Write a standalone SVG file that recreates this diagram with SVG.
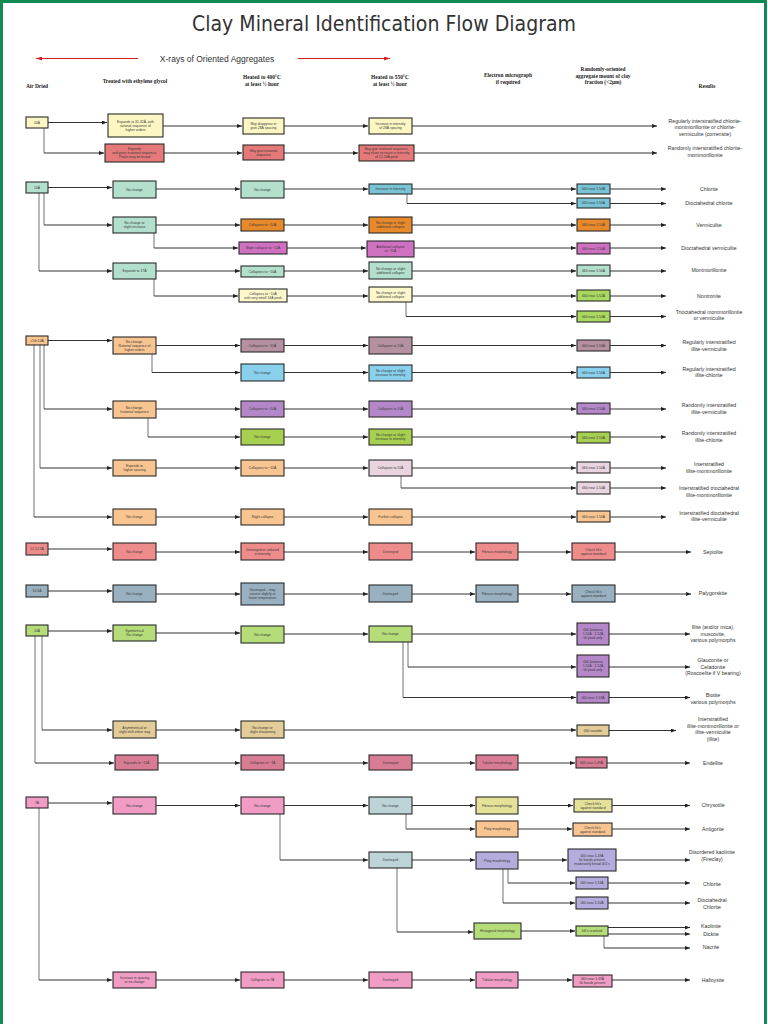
<svg xmlns="http://www.w3.org/2000/svg" width="768" height="1024" viewBox="0 0 768 1024">
<style>
.b{stroke:#2a2a2a;stroke-width:1.1}
.t{font-family:"Liberation Sans",Arial,sans-serif;font-size:3.4px;fill:#3a3a3a;text-anchor:middle}
.r{font-family:"Liberation Sans",Arial,sans-serif;font-size:5.2px;fill:#333;text-anchor:middle}
.h{font-family:"Liberation Serif","Times New Roman",serif;font-weight:bold;font-size:5.4px;fill:#222;text-anchor:middle}
.c{fill:none;stroke:#333;stroke-width:1;marker-end:url(#ah)}
.v{fill:none;stroke:#a0a0a0;stroke-width:1.5}
.yel{fill:#fcf7c2}.red{fill:#e57878}.tea{fill:#b2e0cc}.blu{fill:#78c4d6}.ora{fill:#e8892c}.mag{fill:#d070c0}
.lye{fill:#fdf8cc}.grn{fill:#a8d860}.pea{fill:#f8c490}.mau{fill:#b490a0}.lbl{fill:#88d0ec}.pur{fill:#b488c8}
.gr2{fill:#a8d050}.ppk{fill:#ead4e0}.rd2{fill:#ee8c8c}.bgr{fill:#98b0c0}.lgr{fill:#b4dc78}.tan{fill:#e4cc98}
.ros{fill:#d87c94}.pnk{fill:#f09cc4}.bg2{fill:#bcd4d8}.ylw{fill:#e4e298}.lav{fill:#b4acdc}
</style>
<defs>
<marker id="ah" markerWidth="5" markerHeight="4" refX="5" refY="2" orient="auto" markerUnits="userSpaceOnUse"><path d="M0,0 L5,2 L0,4z" fill="#222"/></marker>
<marker id="ra" markerWidth="6" markerHeight="4" refX="6" refY="2" orient="auto" markerUnits="userSpaceOnUse"><path d="M0,0 L6,2 L0,4z" fill="#d42020"/></marker>
</defs>
<rect width="768" height="1024" fill="#fff"/>
<rect x="1.5" y="1.5" width="764" height="1040" fill="none" stroke="#108a55" stroke-width="3"/>
<g id="title">
<text x="384" y="31" font-family="'DejaVu Sans',sans-serif" font-size="21" fill="#333" text-anchor="middle" textLength="384" lengthAdjust="spacingAndGlyphs">Clay Mineral Identification Flow Diagram</text>
<text x="217" y="62" font-family="'Liberation Sans',Arial,sans-serif" font-size="8.5" fill="#333" text-anchor="middle">X-rays of Oriented Aggregates</text>
<path d="M138 58.5H36" stroke="#d42020" stroke-width="1" marker-end="url(#ra)"/>
<path d="M298 58.5H390" stroke="#d42020" stroke-width="1" marker-end="url(#ra)"/>
</g>
<g id="headers">
<text class="h" x="37" y="88">Air Dried</text>
<text class="h" x="135" y="83">Treated with ethylene glycol</text>
<text class="h" x="262" y="79">Heated to 400°C<tspan x="262" dy="6.5">at least ½ hour</tspan></text>
<text class="h" x="390" y="79">Heated to 550°C<tspan x="390" dy="6.5">at least ½ hour</tspan></text>
<text class="h" x="508" y="77">Electron micrograph<tspan x="508" dy="6.5">if required</tspan></text>
<text class="h" x="603" y="71">Randomly-oriented<tspan x="603" dy="6.5">aggregate mount of clay</tspan><tspan x="603" dy="6.5">fraction (&lt;2μm)</tspan></text>
<text class="h" x="707" y="88" font-size="7">Results</text>
</g>
<g id="connectors">
<path class="c" d="M48 122.5H107"/><path class="c" d="M163 126H242"/><path class="c" d="M284 126H368"/><path class="c" d="M412 126H657"/>
<path class="v" d="M44 128V153"/><path class="c" d="M44 153H104"/><path class="c" d="M164 153H242"/><path class="c" d="M284 153H358"/><path class="c" d="M414 153H657"/>
<path class="c" d="M48 187.5H112"/><path class="c" d="M156 189H240"/><path class="c" d="M284 189H368"/><path class="c" d="M412 189H576"/><path class="c" d="M610 189H666"/>
<path class="v" d="M407 194V203.5"/><path class="c" d="M407 203.5H576"/><path class="c" d="M610 203.5H666"/>
<path class="v" d="M44 193V225"/><path class="c" d="M44 225H112"/><path class="c" d="M156 225H240"/><path class="c" d="M284 225H368"/><path class="c" d="M412 225H576"/><path class="c" d="M610 225H666"/>
<path class="v" d="M154 233V248"/><path class="c" d="M154 248H238"/><path class="c" d="M287 248H366"/><path class="c" d="M414 248H576"/><path class="c" d="M610 248H666"/>
<path class="v" d="M39 193V271"/><path class="c" d="M39 271H112"/><path class="c" d="M156 271H240"/><path class="c" d="M284 271H368"/><path class="c" d="M412 271H576"/><path class="c" d="M610 271H666"/>
<path class="v" d="M154 279V296"/><path class="c" d="M154 296H238"/><path class="c" d="M287 296H368"/><path class="c" d="M412 296H576"/><path class="c" d="M610 296H666"/>
<path class="v" d="M406 302V316.5"/><path class="c" d="M406 316.5H576"/><path class="c" d="M610 316.5H666"/>
<path class="c" d="M48 340.5H112"/><path class="c" d="M156 345.5H240"/><path class="c" d="M284 345.5H368"/><path class="c" d="M412 345.5H576"/><path class="c" d="M610 345.5H666"/>
<path class="v" d="M152 354V372.5"/><path class="c" d="M152 372.5H240"/><path class="c" d="M284 372.5H368"/><path class="c" d="M412 372.5H576"/><path class="c" d="M610 372.5H666"/>
<path class="v" d="M44 345V409"/><path class="c" d="M44 409H112"/><path class="c" d="M156 409H240"/><path class="c" d="M284 409H368"/><path class="c" d="M412 409H576"/><path class="c" d="M610 409H666"/>
<path class="v" d="M148 418V437"/><path class="c" d="M148 437H240"/><path class="c" d="M284 437H368"/><path class="c" d="M412 437H576"/><path class="c" d="M610 437H666"/>
<path class="v" d="M40 345V468"/><path class="c" d="M40 468H112"/><path class="c" d="M156 468H240"/><path class="c" d="M284 468H368"/><path class="c" d="M412 468H576"/><path class="c" d="M610 468H666"/>
<path class="v" d="M401 476V488"/><path class="c" d="M401 488H576"/><path class="c" d="M610 488H666"/>
<path class="v" d="M34 345V517"/><path class="c" d="M34 517H112"/><path class="c" d="M156 517H240"/><path class="c" d="M284 517H368"/><path class="c" d="M412 517H576"/><path class="c" d="M610 517H666"/>
<path class="c" d="M48 549H112"/><path class="c" d="M156 552H240"/><path class="c" d="M284 552H368"/><path class="c" d="M412 552H475"/><path class="c" d="M518 552H571"/><path class="c" d="M615 552H691"/>
<path class="c" d="M48 591H112"/><path class="c" d="M156 594H240"/><path class="c" d="M284 594H368"/><path class="c" d="M412 594H475"/><path class="c" d="M518 594H571"/><path class="c" d="M615 594H691"/>
<path class="c" d="M48 631H112"/><path class="c" d="M156 633H240"/><path class="c" d="M284 634H368"/><path class="c" d="M412 634H576"/><path class="c" d="M609 634H690"/>
<path class="v" d="M408 642V667"/><path class="c" d="M408 667H576"/><path class="c" d="M609 667H690"/>
<path class="v" d="M403 642V697.5"/><path class="c" d="M403 697.5H576"/><path class="c" d="M609 697.5H690"/>
<path class="v" d="M42 636V730"/><path class="c" d="M42 730H112"/><path class="c" d="M156 730H240"/><path class="c" d="M284 730H576"/><path class="c" d="M609 730.5H676"/>
<path class="v" d="M35 636V763"/><path class="c" d="M35 763H114"/><path class="c" d="M158 763H240"/><path class="c" d="M284 763H368"/><path class="c" d="M412 763H475"/><path class="c" d="M518 763H575"/><path class="c" d="M607 763H690"/>
<path class="c" d="M48 803H112"/><path class="c" d="M156 805.5H240"/><path class="c" d="M284 805.5H368"/><path class="c" d="M412 805.5H475"/><path class="c" d="M518 805.5H573"/><path class="c" d="M612 805.5H690"/>
<path class="v" d="M406 814V829"/><path class="c" d="M406 829H475"/><path class="c" d="M518 829H572"/><path class="c" d="M612 829H690"/>
<path class="v" d="M280 814V860"/><path class="c" d="M280 860H368"/><path class="c" d="M412 860H475"/><path class="c" d="M518 860H567"/><path class="c" d="M616 860H690"/>
<path class="v" d="M508 869V883"/><path class="c" d="M508 883H575"/><path class="c" d="M608 883H690"/>
<path class="v" d="M503 869V903"/><path class="c" d="M503 903H575"/><path class="c" d="M608 903H690"/>
<path class="v" d="M397 868V932"/><path class="c" d="M397 932H473"/><path class="c" d="M521 931H575"/><path class="c" d="M608 927.5H690"/><path class="c" d="M608 934H690"/>
<path class="v" d="M604 936V948"/><path class="c" d="M604 948H690"/>
<path class="v" d="M39 808V980"/><path class="c" d="M39 980H112"/><path class="c" d="M156 980H240"/><path class="c" d="M284 980H368"/><path class="c" d="M412 980H475"/><path class="c" d="M518 980H572"/><path class="c" d="M612 980H690"/>
</g>
<!-- 24A section -->
<g id="n24"><rect class="b yel" x="26" y="117" width="22" height="11"/><text class="t" x="37" y="123.7">24Å</text></g>
<g id="a1"><rect class="b yel" x="108" y="114" width="55" height="23"/><text class="t" x="135.5" y="122.5">Expands to 31-32Å, with<tspan x="135.5" dy="4.2">rational sequence of</tspan><tspan x="135.5" dy="4.2">higher orders</tspan></text></g>
<g id="a2"><rect class="b red" x="105" y="144" width="59" height="18"/><text class="t" x="134.5" y="150">Expands<tspan x="134.5" dy="4.2">and gives irrational sequence.</tspan><tspan x="134.5" dy="4.2">Peaks may be broad</tspan></text></g>
<g id="b1"><rect class="b yel" x="243" y="118" width="41" height="16"/><text class="t" x="263.5" y="125.1">May disappear or<tspan x="263.5" dy="4.2">give 28Å spacing</tspan></text></g>
<g id="b2"><rect class="b red" x="243" y="145" width="41" height="15"/><text class="t" x="263.5" y="151.6">May give irrational<tspan x="263.5" dy="4.2">sequence</tspan></text></g>
<g id="c1"><rect class="b yel" x="369" y="118" width="43" height="16"/><text class="t" x="390.5" y="125.1">Increase in intensity<tspan x="390.5" dy="4.2">of 28Å spacing</tspan></text></g>
<g id="c2"><rect class="b red" x="359" y="145" width="55" height="16"/><text class="t" x="386.5" y="150">May give irrational sequence,<tspan x="386.5" dy="4.2">may show increase in intensity</tspan><tspan x="386.5" dy="4.2">of 12-14Å peak</tspan></text></g>
<!-- 14A section -->
<g id="n14"><rect class="b tea" x="26" y="182" width="22" height="11"/><text class="t" x="37" y="188.7">14Å</text></g>
<g id="d1"><rect class="b tea" x="113" y="181" width="43" height="17"/><text class="t" x="134.5" y="190.7">No change</text></g>
<g id="d2"><rect class="b tea" x="113" y="217" width="43" height="16"/><text class="t" x="134.5" y="224.1">No change or<tspan x="134.5" dy="4.2">slight increase</tspan></text></g>
<g id="d3"><rect class="b tea" x="113" y="263" width="43" height="16"/><text class="t" x="134.5" y="272.2">Expands to 17Å</text></g>
<g id="e1"><rect class="b tea" x="241" y="181" width="43" height="17"/><text class="t" x="262.5" y="190.7">No change</text></g>
<g id="e2"><rect class="b ora" x="241" y="219" width="43" height="12"/><text class="t" x="262.5" y="226.2">Collapses to ~10Å</text></g>
<g id="e3"><rect class="b mag" x="239" y="242" width="48" height="12"/><text class="t" x="263" y="249.2">Slight collapse to ~12Å</text></g>
<g id="e4"><rect class="b tea" x="241" y="266" width="43" height="11"/><text class="t" x="262.5" y="272.7">Collapses to ~10Å</text></g>
<g id="e5"><rect class="b lye" x="239" y="289" width="48" height="13"/><text class="t" x="263" y="294.6">Collapses to ~10Å<tspan x="263" dy="4.2">with very small 14Å peak</tspan></text></g>
<g id="f1"><rect class="b blu" x="369" y="184" width="43" height="10"/><text class="t" x="390.5" y="190.2">Increase in intensity</text></g>
<g id="f2"><rect class="b ora" x="369" y="217" width="43" height="16"/><text class="t" x="390.5" y="224.1">No change or slight<tspan x="390.5" dy="4.2">additional collapse</tspan></text></g>
<g id="f3"><rect class="b mag" x="367" y="241" width="47" height="16"/><text class="t" x="390.5" y="248.1">Additional collapse<tspan x="390.5" dy="4.2">to ~11Å</tspan></text></g>
<g id="f4"><rect class="b tea" x="369" y="262" width="43" height="17"/><text class="t" x="390.5" y="269.6">No change or slight<tspan x="390.5" dy="4.2">additional collapse</tspan></text></g>
<g id="f5"><rect class="b lye" x="369" y="287" width="43" height="15"/><text class="t" x="390.5" y="293.6">No change or slight<tspan x="390.5" dy="4.2">additional collapse</tspan></text></g>
<g id="g1"><rect class="b blu" x="577" y="184" width="33" height="10"/><text class="t" x="593.5" y="190.2">060 near 1.54Å</text></g>
<g id="g2"><rect class="b blu" x="577" y="198" width="33" height="10"/><text class="t" x="593.5" y="204.2">060 near 1.50Å</text></g>
<g id="g3"><rect class="b ora" x="577" y="219" width="33" height="12"/><text class="t" x="593.5" y="226.2">060 near 1.54Å</text></g>
<g id="g4"><rect class="b mag" x="577" y="243" width="33" height="11"/><text class="t" x="593.5" y="249.7">060 near 1.50Å</text></g>
<g id="g5"><rect class="b tea" x="577" y="265" width="33" height="11"/><text class="t" x="593.5" y="271.7">060 near 1.50Å</text></g>
<g id="g6"><rect class="b grn" x="577" y="290" width="33" height="11"/><text class="t" x="593.5" y="296.7">060 near 1.52Å</text></g>
<g id="g7"><rect class="b grn" x="577" y="311" width="33" height="11"/><text class="t" x="593.5" y="317.7">060 near 1.54Å</text></g>
<!-- >10<14A section -->
<g id="n1014"><rect class="b pea" x="26" y="336" width="22" height="9"/><text class="t" x="37" y="341.7">&gt;10&lt;14Å</text></g>
<g id="h1"><rect class="b pea" x="113" y="337" width="43" height="17"/><text class="t" x="134.5" y="342.5">No change.<tspan x="134.5" dy="4.2">Rational sequence of</tspan><tspan x="134.5" dy="4.2">higher orders</tspan></text></g>
<g id="h2"><rect class="b pea" x="113" y="401" width="43" height="17"/><text class="t" x="134.5" y="408.6">No change.<tspan x="134.5" dy="4.2">Irrational sequence</tspan></text></g>
<g id="h3"><rect class="b pea" x="113" y="460" width="43" height="16"/><text class="t" x="134.5" y="467.1">Expands to<tspan x="134.5" dy="4.2">higher spacing</tspan></text></g>
<g id="h4"><rect class="b pea" x="113" y="509" width="43" height="16"/><text class="t" x="134.5" y="518.2">No change</text></g>
<g id="i1"><rect class="b mau" x="241" y="339" width="43" height="13"/><text class="t" x="262.5" y="346.7">Collapses to ~10Å</text></g>
<g id="i2"><rect class="b lbl" x="241" y="364" width="43" height="17" stroke="#3aa8e0"/><text class="t" x="262.5" y="373.7">No change</text></g>
<g id="i3"><rect class="b pur" x="241" y="401" width="43" height="16"/><text class="t" x="262.5" y="410.2">Collapses to ~10Å</text></g>
<g id="i4"><rect class="b gr2" x="241" y="429" width="43" height="16"/><text class="t" x="262.5" y="438.2">No change</text></g>
<g id="i5"><rect class="b pea" x="241" y="460" width="43" height="16"/><text class="t" x="262.5" y="469.2">Collapses to ~10Å</text></g>
<g id="i6"><rect class="b pea" x="241" y="509" width="43" height="16"/><text class="t" x="262.5" y="518.2">Slight collapse</text></g>
<g id="j1"><rect class="b mau" x="369" y="337" width="43" height="17"/><text class="t" x="390.5" y="346.7">Collapses to 10Å</text></g>
<g id="j2"><rect class="b lbl" x="369" y="365" width="43" height="16"/><text class="t" x="390.5" y="372.1">No change or slight<tspan x="390.5" dy="4.2">increase in intensity</tspan></text></g>
<g id="j3"><rect class="b pur" x="369" y="401" width="43" height="16"/><text class="t" x="390.5" y="410.2">Collapses to 10Å</text></g>
<g id="j4"><rect class="b gr2" x="369" y="429" width="43" height="16"/><text class="t" x="390.5" y="436.1">No change or slight<tspan x="390.5" dy="4.2">increase in intensity</tspan></text></g>
<g id="j5"><rect class="b ppk" x="369" y="460" width="43" height="16"/><text class="t" x="390.5" y="469.2">Collapses to 10Å</text></g>
<g id="j6"><rect class="b pea" x="369" y="509" width="43" height="16"/><text class="t" x="390.5" y="518.2">Further collapse</text></g>
<g id="k1"><rect class="b mau" x="577" y="340" width="33" height="11"/><text class="t" x="593.5" y="346.7">060 near 1.50Å</text></g>
<g id="k2"><rect class="b lbl" x="577" y="367" width="33" height="11"/><text class="t" x="593.5" y="373.7">060 near 1.50Å</text></g>
<g id="k3"><rect class="b pur" x="577" y="403" width="33" height="11"/><text class="t" x="593.5" y="409.7">060 near 1.50Å</text></g>
<g id="k4"><rect class="b gr2" x="577" y="432" width="33" height="11"/><text class="t" x="593.5" y="438.7">060 near 1.50Å</text></g>
<g id="k5"><rect class="b ppk" x="577" y="462" width="33" height="11"/><text class="t" x="593.5" y="468.7">060 near 1.50Å</text></g>
<g id="k6"><rect class="b ppk" x="577" y="482" width="33" height="12"/><text class="t" x="593.5" y="489.2">060 near 1.54Å</text></g>
<g id="k7"><rect class="b pea" x="577" y="511" width="33" height="11"/><text class="t" x="593.5" y="517.7">060 near 1.50Å</text></g>
<!-- 12-12.5A -->
<g id="n12"><rect class="b rd2" x="26" y="543" width="22" height="12"/><text class="t" x="37" y="550.2">12-12.5Å</text></g>
<g id="l1"><rect class="b rd2" x="113" y="543" width="43" height="17"/><text class="t" x="134.5" y="552.7">No change</text></g>
<g id="l2"><rect class="b rd2" x="241" y="543" width="43" height="17"/><text class="t" x="262.5" y="550.6">Destroyed or reduced<tspan x="262.5" dy="4.2">in intensity</tspan></text></g>
<g id="l3"><rect class="b rd2" x="369" y="543" width="43" height="17"/><text class="t" x="390.5" y="552.7">Destroyed</text></g>
<g id="l4"><rect class="b rd2" x="476" y="543" width="42" height="17"/><text class="t" x="497" y="552.7">Fibrous morphology</text></g>
<g id="l5"><rect class="b rd2" x="572" y="543" width="43" height="17"/><text class="t" x="593.5" y="550.6">Check hk's<tspan x="593.5" dy="4.2">against standard</tspan></text></g>
<!-- 10.5A -->
<g id="n105"><rect class="b bgr" x="26" y="585" width="22" height="12"/><text class="t" x="37" y="592.2">10.5Å</text></g>
<g id="m1"><rect class="b bgr" x="113" y="585" width="43" height="17"/><text class="t" x="134.5" y="594.7">No change</text></g>
<g id="m2"><rect class="b bgr" x="241" y="583" width="43" height="22"/><text class="t" x="262.5" y="591">Destroyed... may<tspan x="262.5" dy="4.2">survive slightly at</tspan><tspan x="262.5" dy="4.2">lower temperature</tspan></text></g>
<g id="m3"><rect class="b bgr" x="369" y="585" width="43" height="17"/><text class="t" x="390.5" y="594.7">Destroyed</text></g>
<g id="m4"><rect class="b bgr" x="476" y="585" width="42" height="17"/><text class="t" x="497" y="594.7">Fibrous morphology</text></g>
<g id="m5"><rect class="b bgr" x="572" y="585" width="43" height="17"/><text class="t" x="593.5" y="592.6">Check hk's<tspan x="593.5" dy="4.2">against standard</tspan></text></g>
<!-- 10A -->
<g id="n10"><rect class="b lgr" x="26" y="625" width="22" height="11"/><text class="t" x="37" y="631.7">10Å</text></g>
<g id="o1"><rect class="b lgr" x="113" y="625" width="43" height="16"/><text class="t" x="134.5" y="632.1">Symmetrical<tspan x="134.5" dy="4.2">No change</tspan></text></g>
<g id="o2"><rect class="b tan" x="113" y="721" width="43" height="17"/><text class="t" x="134.5" y="728.6">Asymmetrical or<tspan x="134.5" dy="4.2">slight shift either way</tspan></text></g>
<g id="o3"><rect class="b ros" x="115" y="755" width="43" height="15"/><text class="t" x="136.5" y="763.7">Expands to ~11Å</text></g>
<g id="p1"><rect class="b lgr" x="241" y="626" width="43" height="17"/><text class="t" x="262.5" y="635.7">No change</text></g>
<g id="p2"><rect class="b tan" x="241" y="721" width="43" height="17"/><text class="t" x="262.5" y="728.6">No change or<tspan x="262.5" dy="4.2">slight sharpening</tspan></text></g>
<g id="p3"><rect class="b ros" x="241" y="755" width="43" height="15"/><text class="t" x="262.5" y="763.7">Collapses to ~7Å</text></g>
<g id="q1"><rect class="b lgr" x="369" y="626" width="43" height="16"/><text class="t" x="390.5" y="635.2">No change</text></g>
<g id="q3"><rect class="b ros" x="369" y="755" width="43" height="15"/><text class="t" x="390.5" y="763.7">Destroyed</text></g>
<g id="s3"><rect class="b ros" x="476" y="755" width="42" height="15"/><text class="t" x="497" y="763.7">Tubular morphology</text></g>
<g id="t1"><rect class="b pur" x="577" y="623" width="32" height="22"/><text class="t" x="593" y="631">060 between<tspan x="593" dy="4.2">1.51Å - 1.52Å</tspan><tspan x="593" dy="4.2">hk peak only</tspan></text></g>
<g id="t2"><rect class="b pur" x="577" y="655" width="32" height="22"/><text class="t" x="593" y="663">060 between<tspan x="593" dy="4.2">1.51Å - 1.52Å</tspan><tspan x="593" dy="4.2">hk peak only</tspan></text></g>
<g id="t3"><rect class="b pur" x="577" y="692" width="32" height="11"/><text class="t" x="593" y="698.7">060 near 1.53Å</text></g>
<g id="t4"><rect class="b tan" x="577" y="725" width="32" height="11"/><text class="t" x="593" y="731.7">060 variable</text></g>
<g id="t5"><rect class="b ros" x="576" y="757" width="31" height="11"/><text class="t" x="591.5" y="763.7">060 near 1.49Å</text></g>
<!-- 7A -->
<g id="n7"><rect class="b pnk" x="26" y="797" width="22" height="11"/><text class="t" x="37" y="803.7">7Å</text></g>
<g id="u1"><rect class="b pnk" x="113" y="797" width="43" height="17"/><text class="t" x="134.5" y="806.7">No change</text></g>
<g id="u2"><rect class="b pnk" x="113" y="972" width="43" height="16"/><text class="t" x="134.5" y="979.1">Increase in spacing<tspan x="134.5" dy="4.2">or no change</tspan></text></g>
<g id="v1"><rect class="b pnk" x="241" y="797" width="43" height="17"/><text class="t" x="262.5" y="806.7">No change</text></g>
<g id="v2"><rect class="b pnk" x="241" y="972" width="43" height="16"/><text class="t" x="262.5" y="981.2">Collapses to 7Å</text></g>
<g id="w1"><rect class="b bg2" x="369" y="797" width="43" height="17"/><text class="t" x="390.5" y="806.7">No change</text></g>
<g id="w2"><rect class="b bg2" x="369" y="852" width="43" height="16"/><text class="t" x="390.5" y="861.2">Destroyed</text></g>
<g id="w3"><rect class="b pnk" x="369" y="972" width="43" height="16"/><text class="t" x="390.5" y="981.2">Destroyed</text></g>
<g id="x1"><rect class="b ylw" x="476" y="797" width="42" height="17"/><text class="t" x="497" y="806.7">Fibrous morphology</text></g>
<g id="x2"><rect class="b pea" x="476" y="821" width="42" height="16"/><text class="t" x="497" y="830.2">Platy morphology</text></g>
<g id="x3"><rect class="b lav" x="476" y="852" width="42" height="17"/><text class="t" x="497" y="861.7">Platy morphology</text></g>
<g id="x4"><rect class="b lgr" x="474" y="923" width="47" height="16"/><text class="t" x="497.5" y="932.2">Hexagonal morphology</text></g>
<g id="x5"><rect class="b pnk" x="476" y="972" width="42" height="16"/><text class="t" x="497" y="981.2">Tubular morphology</text></g>
<g id="y1"><rect class="b ylw" x="574" y="799" width="38" height="13"/><text class="t" x="593" y="804.6">Check hk's<tspan x="593" dy="4.2">against standard</tspan></text></g>
<g id="y2"><rect class="b pea" x="573" y="823" width="39" height="13"/><text class="t" x="592.5" y="828.6">Check hk's<tspan x="592.5" dy="4.2">against standard</tspan></text></g>
<g id="y3"><rect class="b lav" x="568" y="849" width="48" height="22"/><text class="t" x="592" y="857">060 near 1.49Å<tspan x="592" dy="4.2">hk bands present</tspan><tspan x="592" dy="4.2">moderately broad 001's</tspan></text></g>
<g id="y4"><rect class="b lav" x="576" y="877" width="32" height="12"/><text class="t" x="592" y="884.2">060 near 1.54Å</text></g>
<g id="y5"><rect class="b lav" x="576" y="897" width="32" height="12"/><text class="t" x="592" y="904.2">060 near 1.50Å</text></g>
<g id="y6"><rect class="b lgr" x="576" y="926" width="32" height="10"/><text class="t" x="592" y="932.2">hkl's resolved</text></g>
<g id="y7"><rect class="b pnk" x="573" y="975" width="39" height="12"/><text class="t" x="592.5" y="980.1">060 near 1.49Å<tspan x="592.5" dy="4.2">hk bands present</tspan></text></g>
<g id="results">
<text class="r" x="705" y="122.5">Regularly interstratified chlorite-<tspan x="705" dy="6.5">montmorillonite or chlorite-</tspan><tspan x="705" dy="6.5">vermiculite (corrensite)</tspan></text>
<text class="r" x="705" y="150">Randomly interstratified chlorite-<tspan x="705" dy="6.5">montmorillonite</tspan></text>
<text class="r" x="709" y="190.8">Chlorite</text>
<text class="r" x="709" y="204.8">Dioctahedral chlorite</text>
<text class="r" x="709" y="226.8">Vermiculite</text>
<text class="r" x="709" y="249.8">Dioctahedral vermiculite</text>
<text class="r" x="709" y="272">Montmorillonite</text>
<text class="r" x="709" y="297.8">Nontronite</text>
<text class="r" x="709" y="313.5">Trioctahedral montmorillonite<tspan x="709" dy="6.5">or vermiculite</tspan></text>
<text class="r" x="709" y="344">Regularly interstratified<tspan x="709" dy="6.5">illite-vermiculite</tspan></text>
<text class="r" x="709" y="370.5">Regularly interstratified<tspan x="709" dy="6.5">illite-chlorite</tspan></text>
<text class="r" x="709" y="407">Randomly interstratified<tspan x="709" dy="6.5">illite-vermiculite</tspan></text>
<text class="r" x="709" y="435">Randomly interstratified<tspan x="709" dy="6.5">illite-chlorite</tspan></text>
<text class="r" x="709" y="466">Interstratified<tspan x="709" dy="6.5">illite-montmorillonite</tspan></text>
<text class="r" x="709" y="490">Interstratified trioctahedral<tspan x="709" dy="6.5">illite-montmorillonite</tspan></text>
<text class="r" x="709" y="514.5">Interstratified dioctahedral<tspan x="709" dy="6.5">illite-vermiculite</tspan></text>
<text class="r" x="713" y="553.5">Sepiolite</text>
<text class="r" x="713" y="595">Palygorskite</text>
<text class="r" x="713" y="629">Illite (and/or mica),<tspan x="713" dy="6.5">muscovite,</tspan><tspan x="713" dy="6.5">various polymorphs</tspan></text>
<text class="r" x="713" y="662">Glauconite or<tspan x="713" dy="6.5">Celadonite</tspan><tspan x="713" dy="6.5">(Roscoelite if V bearing)</tspan></text>
<text class="r" x="713" y="697">Biotite<tspan x="713" dy="6.5">various polymorphs</tspan></text>
<text class="r" x="713" y="721">Interstratified<tspan x="713" dy="6.5">illite-montmorillonite or</tspan><tspan x="713" dy="6.5">illite-vermiculite</tspan><tspan x="713" dy="6.5">(illite)</tspan></text>
<text class="r" x="713" y="764.5">Endellite</text>
<text class="r" x="713" y="806.5">Chrysotile</text>
<text class="r" x="713" y="830.5">Antigorite</text>
<text class="r" x="712" y="854">Disordered kaolinite<tspan x="712" dy="6.5">(Fireclay)</tspan></text>
<text class="r" x="712" y="885.5">Chlorite</text>
<text class="r" x="712" y="902">Dioctahedral<tspan x="712" dy="6.5">Chlorite</tspan></text>
<text class="r" x="711" y="927.8">Kaolinite</text>
<text class="r" x="711" y="935.8">Dickite</text>
<text class="r" x="711" y="948.5">Nacrite</text>
<text class="r" x="713" y="982">Halloysite</text>
</g>
</svg>
